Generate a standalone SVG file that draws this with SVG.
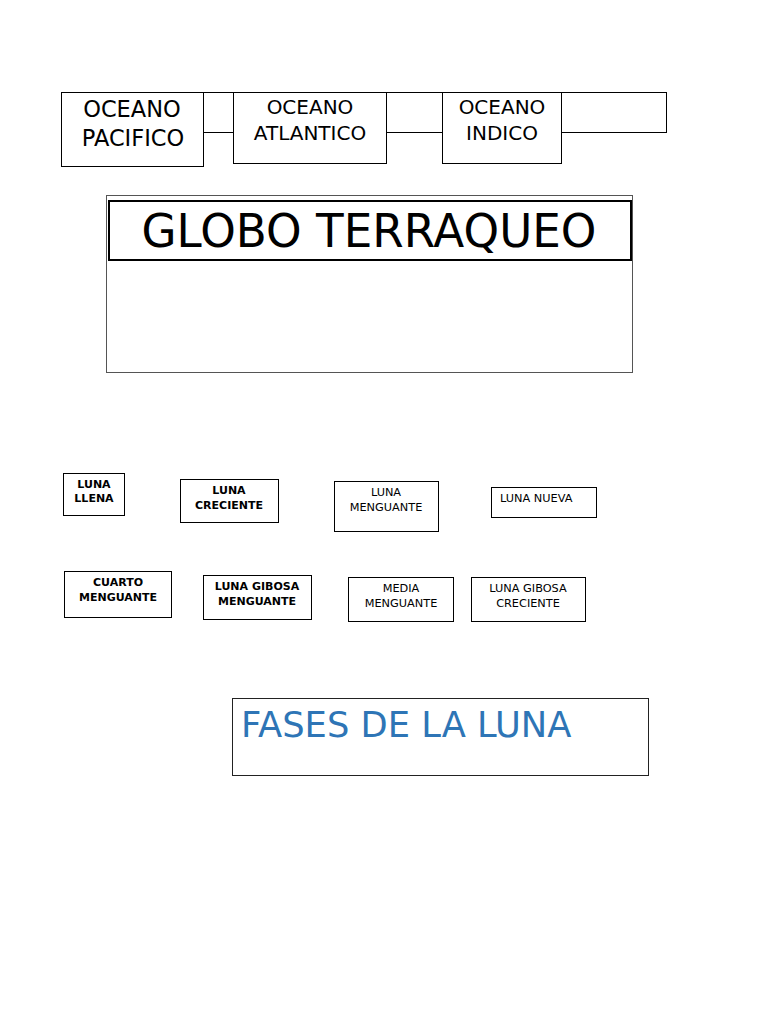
<svg xmlns="http://www.w3.org/2000/svg" width="768" height="1024" viewBox="0 0 768 1024">
<style>
text{font-family:"DejaVu Sans","Liberation Sans",sans-serif;fill:#000}
.box{fill:#fff;stroke:#000;stroke-width:1}
.ocean{text-anchor:middle}
.sb{font-size:11px;font-weight:bold;text-anchor:middle}
.sn{font-size:11.3px;text-anchor:middle}
.con{fill:none;stroke:#000;stroke-width:1}
</style>
<rect width="768" height="1024" fill="#fff"/>
<g id="connectors">
<rect class="con" x="150.5" y="92.5" width="516" height="40"/>
</g>
<g id="pacifico">
<rect class="box" x="61.5" y="92.5" width="142" height="74"/>
<text class="ocean" x="132" y="117" style="font-size:22.5px">OCEANO</text>
<text class="ocean" x="133" y="146" style="font-size:22.5px">PACIFICO</text>
</g>
<g id="atlantico">
<rect class="box" x="233.5" y="92.5" width="153" height="71"/>
<text class="ocean" x="310" y="114" style="font-size:20px">OCEANO</text>
<text class="ocean" x="310" y="140" style="font-size:20px">ATLANTICO</text>
</g>
<g id="indico">
<rect class="box" x="442.5" y="92.5" width="119" height="71"/>
<text class="ocean" x="502" y="114" style="font-size:20px">OCEANO</text>
<text class="ocean" x="502" y="140" style="font-size:20px">INDICO</text>
</g>
<g id="globo">
<rect x="106.5" y="195.5" width="526" height="177" fill="#fff" stroke="#555" stroke-width="1"/>
<rect x="109" y="201" width="522" height="59" fill="#fff" stroke="#000" stroke-width="2"/>
<text x="369" y="247" text-anchor="middle" style="font-size:46px" textLength="455" lengthAdjust="spacingAndGlyphs">GLOBO TERRAQUEO</text>
</g>
<g id="luna-llena">
<rect class="box" x="63.5" y="473.5" width="61" height="42"/>
<text class="sb" x="94" y="488">LUNA</text>
<text class="sb" x="94" y="502">LLENA</text>
</g>
<g id="luna-creciente">
<rect class="box" x="180.5" y="479.5" width="98" height="43"/>
<text class="sb" x="229" y="494">LUNA</text>
<text class="sb" x="229" y="509">CRECIENTE</text>
</g>
<g id="luna-menguante">
<rect class="box" x="334.5" y="481.5" width="104" height="50"/>
<text class="sn" x="386" y="496">LUNA</text>
<text class="sn" x="386" y="511">MENGUANTE</text>
</g>
<g id="luna-nueva">
<rect class="box" x="491.5" y="487.5" width="105" height="30"/>
<text class="sn" x="500" y="502" style="text-anchor:start">LUNA NUEVA</text>
</g>
<g id="cuarto-menguante">
<rect class="box" x="64.5" y="571.5" width="107" height="46"/>
<text class="sb" x="118" y="586">CUARTO</text>
<text class="sb" x="118" y="601">MENGUANTE</text>
</g>
<g id="luna-gibosa-menguante">
<rect class="box" x="203.5" y="575.5" width="108" height="44"/>
<text class="sb" x="257" y="590">LUNA GIBOSA</text>
<text class="sb" x="257" y="605">MENGUANTE</text>
</g>
<g id="media-menguante">
<rect class="box" x="348.5" y="577.5" width="105" height="44"/>
<text class="sn" x="401" y="592">MEDIA</text>
<text class="sn" x="401" y="607">MENGUANTE</text>
</g>
<g id="luna-gibosa-creciente">
<rect class="box" x="471.5" y="577.5" width="114" height="44"/>
<text class="sn" x="528" y="592">LUNA GIBOSA</text>
<text class="sn" x="528" y="607">CRECIENTE</text>
</g>
<g id="fases">
<rect x="232.5" y="698.5" width="416" height="77" fill="#fff" stroke="#222" stroke-width="1"/>
<text x="241" y="737" style="font-size:35.3px;fill:#2e75b6">FASES DE LA LUNA</text>
</g>
</svg>
